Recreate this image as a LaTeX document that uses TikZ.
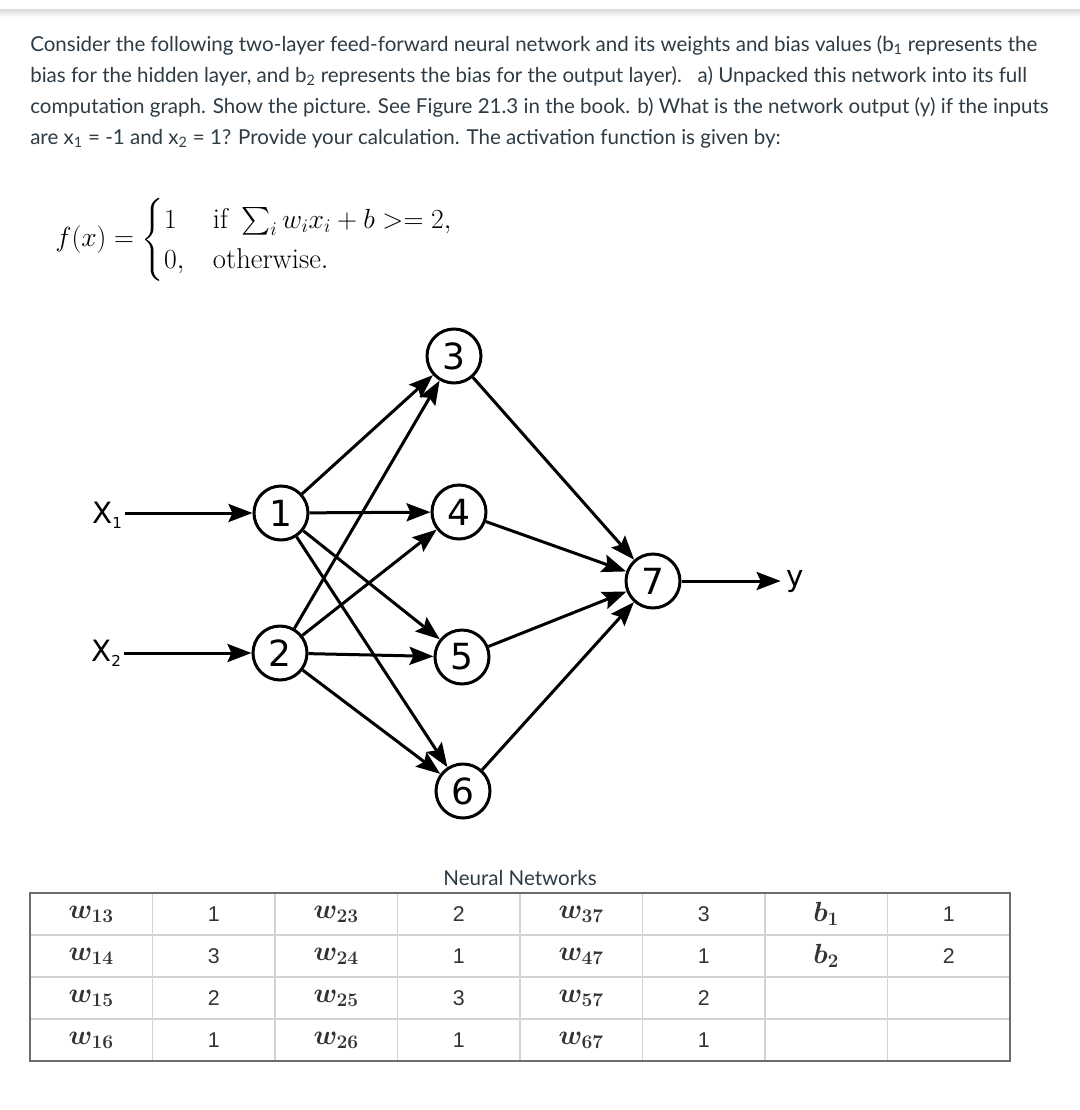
\documentclass[tikz,border=0pt]{standalone}
\usepackage{fontspec}
\usepackage{amsmath}
\usetikzlibrary{arrows.meta}
\newfontfamily\latofont{Lato}
\newfontfamily\vfont{DejaVu Sans}
\newfontfamily\afont{Liberation Sans}
\definecolor{txt}{HTML}{2D3B45}
\definecolor{tblc}{HTML}{333333}
\begin{document}
\begin{tikzpicture}[x=0.75pt,y=-0.75pt,
  neuron/.style={circle,draw,line width=2.25pt,minimum size=40.5pt,inner sep=0pt,font=\vfont\fontsize{27}{27}\selectfont},
  conn/.style={line width=2.25pt,-{Stealth[length=18pt,width=13.5pt,inset=3pt]}},
  hdr/.style={anchor=base west,inner sep=0pt,text=txt,font=\latofont\fontsize{15.4}{18}\selectfont},
  inlabel/.style={anchor=base west,inner sep=0pt,font=\vfont\fontsize{22}{22}\selectfont},
  cellv/.style={font=\afont\fontsize{16}{18}\selectfont,text=tblc},
  cellw/.style={font=\fontsize{20}{22}\selectfont\boldmath,text=tblc},
  tblline/.style={draw=gray!35,line width=1.1pt}]
\useasboundingbox (0,0) rectangle (1080,1110);
\fill[white] (0,0) rectangle (1080,1110);
\shade[top color=gray!30,bottom color=white] (0,9) rectangle (1080,17);
% header
\node[hdr] (h1) at (30,51) {Consider the following two-layer feed-forward neural network and its weights and bias values (b\textsubscript{1} represents the};
\node[hdr] (h2) at (30,82) {bias for the hidden layer, and b\textsubscript{2} represents the bias for the output layer).\ \ \ a) Unpacked this network into its full};
\node[hdr] (h3) at (30,113) {computation graph. Show the picture. See Figure 21.3 in the book. b) What is the network output (y) if the inputs};
\node[hdr] (h4) at (30,144) {are x\textsubscript{1} = -1 and x\textsubscript{2} = 1? Provide your calculation. The activation function is given by:};
% formula
\node[anchor=west,inner sep=0pt,font=\fontsize{21.5}{25}\selectfont] (fx) at (55,240)
  {$f(x)=\begin{cases}1 & \mathrm{if}\ \sum_i w_i x_i + b >= 2,\\ 0, & \mathrm{otherwise.}\end{cases}$};
% network
\node[neuron] (n1) at (281,513) {1};
\node[neuron] (n2) at (280,653) {2};
\node[neuron] (n3) at (454,356) {3};
\node[neuron] (n4) at (459,512) {4};
\node[neuron] (n5) at (462,657) {5};
\node[neuron] (n6) at (463,791) {6};
\node[neuron] (n7) at (653,581) {7};
\node[inlabel] (x1) at (92,523) {X\raisebox{-3.75pt}{\fontsize{11.3}{11.3}\selectfont 1}};
\node[inlabel] (x2) at (91,661) {X\raisebox{-3.75pt}{\fontsize{11.3}{11.3}\selectfont 2}};
\node[inlabel] (yl) at (786,586) {y};
\draw[conn] ([xshift=2pt]x1.east |- n1) -- (n1);
\draw[conn] ([xshift=2pt]x2.east |- n2) -- (n2);
\foreach \a in {1,2} \foreach \b in {3,...,6} \draw[conn] (n\a) -- (n\b);
\foreach \b in {3,...,6} \draw[conn] (n\b) -- (n7);
\draw[conn] (n7) -- ([xshift=-4pt]yl.west |- n7);
% caption
\node[font=\latofont\fontsize{15.4}{18}\selectfont,text=txt] (cap) at (520,878) {Neural Networks};
% table
\foreach \i in {1,...,7} \draw[tblline] ({30+122.5*\i},893) -- ({30+122.5*\i},1061);
\foreach \j in {1,2,3} \draw[tblline] (30,{893+42*\j}) -- (1010,{893+42*\j});
\draw[draw=gray!85!black,line width=1.4pt] (30,893) rectangle (1010,1061);
\foreach \r/\wa/\va/\wb/\vb/\wc/\vc in {1/13/1/23/2/37/3, 2/14/3/24/1/47/1, 3/15/2/25/3/57/2, 4/16/1/26/1/67/1}{
  \node[cellw] (t\r a) at (91.25,{914+42*(\r-1)}) {$w_{\wa}$};
  \node[cellv] (t\r b) at (213.75,{914+42*(\r-1)}) {\va};
  \node[cellw] (t\r c) at (336.25,{914+42*(\r-1)}) {$w_{\wb}$};
  \node[cellv] (t\r d) at (458.75,{914+42*(\r-1)}) {\vb};
  \node[cellw] (t\r e) at (581.25,{914+42*(\r-1)}) {$w_{\wc}$};
  \node[cellv] (t\r f) at (703.75,{914+42*(\r-1)}) {\vc};
}
\node[cellw] (b1) at (826.25,914) {$b_1$};
\node[cellv] (b1v) at (948.75,914) {1};
\node[cellw] (b2) at (826.25,956) {$b_2$};
\node[cellv] (b2v) at (948.75,956) {2};
\end{tikzpicture}
\end{document}
